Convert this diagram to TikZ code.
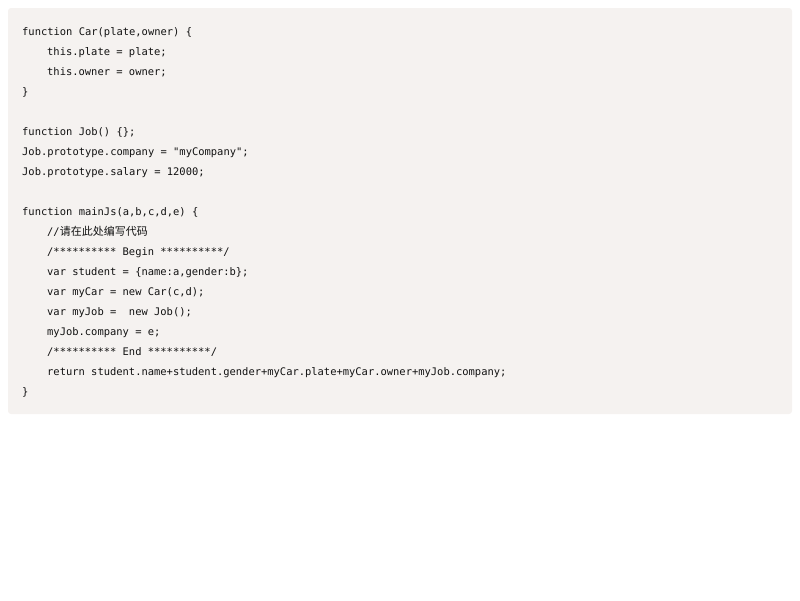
\documentclass[tikz,border=0pt]{standalone}
\usepackage{fontspec}
\setmonofont{DejaVu Sans Mono}[Scale=0.95]
\newfontfamily\cjk{Noto Sans CJK SC}
\definecolor{bgc}{HTML}{F5F2F0}
\definecolor{txt}{HTML}{111111}
\begin{document}
\begin{tikzpicture}[x=1pt,y=-1pt,
  code/.style={anchor=base west,inner sep=0pt,font=\ttfamily\fontsize{11}{13}\selectfont,text=txt}]
\useasboundingbox (0,0) rectangle (800,600);
\fill[bgc,rounded corners=3pt] (8,8) rectangle (792,414);
\def\L#1#2#3{\node[code] (l#1) at (#2,{31+20*(#1-1)+4}) {#3};}
\L{1}{22}{function Car(plate,owner) \{}
\L{2}{47}{this.plate = plate;}
\L{3}{47}{this.owner = owner;}
\L{4}{22}{\}}
\L{6}{22}{function Job() \{\};}
\L{7}{22}{Job.prototype.company = "myCompany";}
\L{8}{22}{Job.prototype.salary = 12000;}
\L{10}{22}{function mainJs(a,b,c,d,e) \{}
\L{11}{47}{//{\cjk 请在此处编写代码}}
\L{12}{47}{/********** Begin **********/}
\L{13}{47}{var student = \{name:a,gender:b\};}
\L{14}{47}{var myCar = new Car(c,d);}
\L{15}{47}{var myJob =\ \ new Job();}
\L{16}{47}{myJob.company = e;}
\L{17}{47}{/********** End **********/}
\L{18}{47}{return student.name+student.gender+myCar.plate+myCar.owner+myJob.company;}
\L{19}{22}{\}}
\end{tikzpicture}
\end{document}
